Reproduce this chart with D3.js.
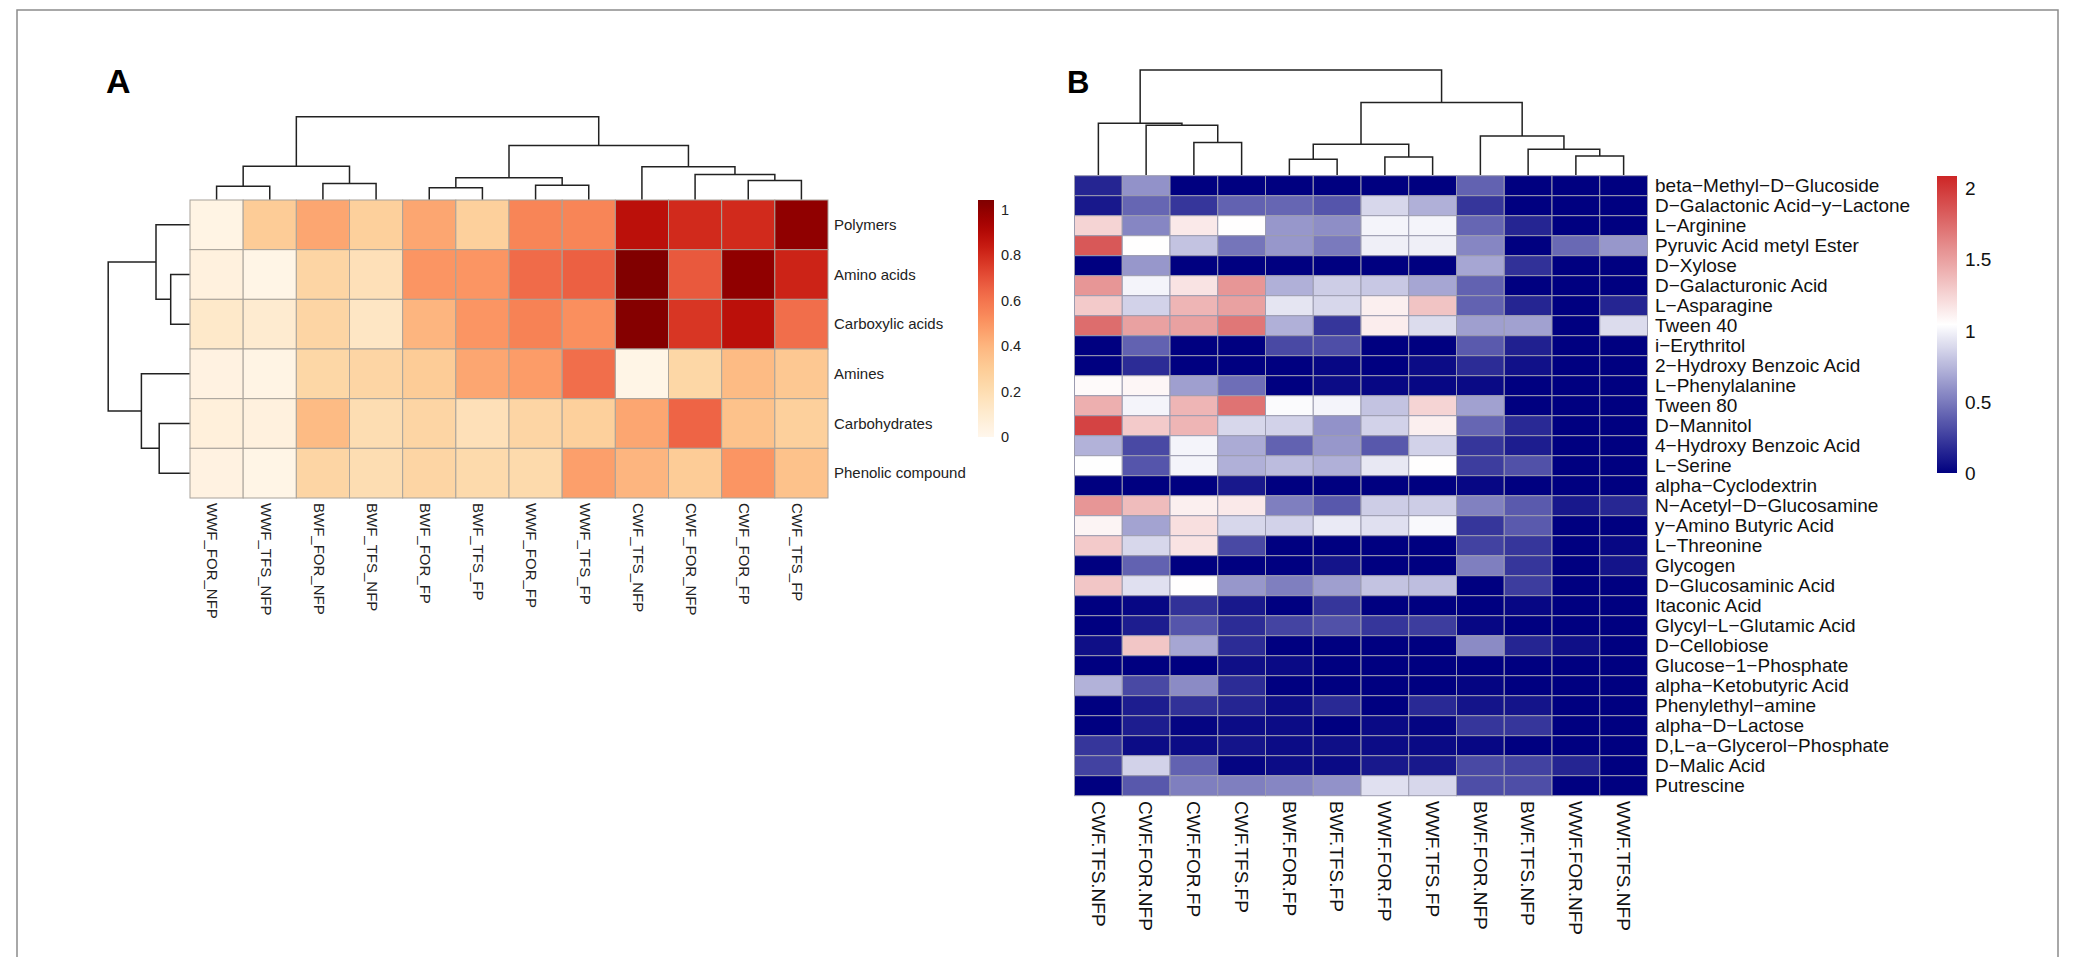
<!DOCTYPE html>
<html>
<head>
<meta charset="utf-8">
<script src="https://cdn.jsdelivr.net/npm/d3@7"></script>
<style>
  html, body { margin: 0; padding: 0; background: #fff; }
  svg { display: block; }
  text { font-family: "Liberation Sans", Arial, sans-serif; }
</style>
</head>
<body>
<svg id="chart" width="2074" height="957"></svg>
<script>
// ---------------- Panel A data ----------------
const colsA = ["WWF_FOR_NFP","WWF_TFS_NFP","BWF_FOR_NFP","BWF_TFS_NFP","BWF_FOR_FP","BWF_TFS_FP",
               "WWF_FOR_FP","WWF_TFS_FP","CWF_TFS_NFP","CWF_FOR_NFP","CWF_FOR_FP","CWF_TFS_FP"];
const rowsA = ["Polymers","Amino acids","Carboxylic acids","Amines","Carbohydrates","Phenolic compound"];
const valsA_Polymers      = [0.03,0.30,0.45,0.28,0.45,0.28,0.55,0.55,0.88,0.80,0.80,1.00];
const valsA_AminoAcids    = [0.05,0.02,0.25,0.18,0.50,0.50,0.63,0.66,1.04,0.68,1.00,0.82];
const valsA_Carboxylic    = [0.12,0.10,0.25,0.14,0.40,0.50,0.56,0.52,1.03,0.77,0.88,0.62];
const valsA_Amines        = [0.04,0.03,0.24,0.25,0.30,0.45,0.48,0.62,0.02,0.24,0.38,0.32];
const valsA_Carbohydrates = [0.06,0.05,0.38,0.20,0.25,0.18,0.25,0.28,0.45,0.65,0.35,0.28];
const valsA_Phenolic      = [0.04,0.02,0.25,0.20,0.25,0.22,0.22,0.47,0.40,0.30,0.50,0.35];
const matA = [valsA_Polymers, valsA_AminoAcids, valsA_Carboxylic, valsA_Amines, valsA_Carbohydrates, valsA_Phenolic];
const legendTicksA = [0, 0.2, 0.4, 0.6, 0.8, 1];
// dendrograms (hclust-style merges: negative = leaf index, positive = earlier merge; third = height)
const colMergeA = [[-1,-2,13.3],[-3,-4,16],[-5,-6,11.7],[-7,-8,14.3],[-11,-12,19],[-10,5,25],
                   [-9,6,32.7],[3,4,21.7],[8,7,54],[1,2,33.3],[10,9,82.7]];
const rowMergeA = [[-2,-3,18.8],[-1,1,33.5],[-5,-6,30.3],[-4,3,48.1],[2,4,81.3]];

// ---------------- Panel B data ----------------
const colsB = ["CWF.TFS.NFP","CWF.FOR.NFP","CWF.FOR.FP","CWF.TFS.FP","BWF.FOR.FP","BWF.TFS.FP",
               "WWF.FOR.FP","WWF.TFS.FP","BWF.FOR.NFP","BWF.TFS.NFP","WWF.FOR.NFP","WWF.TFS.NFP"];
const rowsB = ["beta-Methyl-D-Glucoside","D-Galactonic Acid-y-Lactone","L-Arginine","Pyruvic Acid metyl Ester",
  "D-Xylose","D-Galacturonic Acid","L-Asparagine","Tween 40","i-Erythritol","2-Hydroxy Benzoic Acid",
  "L-Phenylalanine","Tween 80","D-Mannitol","4-Hydroxy Benzoic Acid","L-Serine","alpha-Cyclodextrin",
  "N-Acetyl-D-Glucosamine","y-Amino Butyric Acid","L-Threonine","Glycogen","D-Glucosaminic Acid",
  "Itaconic Acid","Glycyl-L-Glutamic Acid","D-Cellobiose","Glucose-1-Phosphate","alpha-Ketobutyric Acid",
  "Phenylethyl-amine","alpha-D-Lactose","D,L-a-Glycerol-Phosphate","D-Malic Acid","Putrescine"];
const matB = [
  [0.15,0.60,0,0,0,0,0,0,0.40,0,0,0],
  [0.10,0.42,0.22,0.40,0.42,0.35,0.88,0.72,0.22,0,0,0],
  [1.25,0.55,1.15,1.05,0.62,0.58,1.00,1.00,0.42,0.15,0,0],
  [1.85,1.05,0.80,0.48,0.62,0.50,0.98,0.98,0.55,0,0.43,0.62],
  [0,0.62,0,0,0,0,0,0,0.68,0.20,0,0],
  [1.55,1.00,1.18,1.55,0.72,0.84,0.82,0.68,0.40,0,0,0],
  [1.30,0.86,1.40,1.50,0.94,0.88,1.12,1.33,0.40,0.15,0,0.15],
  [1.75,1.50,1.50,1.70,0.72,0.22,1.13,0.90,0.65,0.66,0,0.90],
  [0,0.40,0,0,0.30,0.32,0,0,0.37,0.13,0,0],
  [0,0.18,0,0,0,0.03,0,0.05,0.18,0.07,0,0],
  [1.07,1.09,0.65,0.45,0,0.05,0.03,0.03,0.04,0,0,0],
  [1.43,1.00,1.40,1.72,1.03,1.00,0.80,1.25,0.66,0,0,0],
  [1.95,1.30,1.40,0.88,0.86,0.60,0.86,1.12,0.42,0.17,0,0],
  [0.73,0.30,1.00,0.70,0.40,0.62,0.36,0.86,0.22,0.12,0,0],
  [1.04,0.35,1.00,0.72,0.77,0.72,0.95,1.05,0.25,0.33,0,0],
  [0,0,0,0.10,0,0,0,0,0.03,0,0,0],
  [1.55,1.37,1.12,1.15,0.52,0.36,0.84,0.84,0.53,0.37,0.10,0.16],
  [1.10,0.67,1.20,0.88,0.86,0.96,0.92,1.02,0.22,0.37,0,0],
  [1.30,0.88,1.18,0.30,0,0,0,0,0.27,0.22,0,0.03],
  [0,0.40,0,0,0,0.08,0,0,0.52,0.22,0,0.08],
  [1.32,0.92,1.05,0.62,0.52,0.65,0.80,0.78,0,0.25,0,0],
  [0,0.03,0.20,0.10,0,0.22,0,0,0,0.03,0,0],
  [0,0.12,0.35,0.18,0.28,0.33,0.22,0.25,0.03,0,0,0],
  [0.06,1.32,0.68,0.18,0,0,0,0,0.57,0.15,0.06,0],
  [0,0,0,0.06,0.04,0,0,0,0,0,0,0],
  [0.73,0.30,0.57,0.18,0,0,0,0,0.02,0,0,0],
  [0,0.12,0.20,0.15,0.05,0.17,0,0.17,0.08,0.08,0,0],
  [0,0.12,0.02,0.05,0.05,0,0.04,0.02,0.22,0.22,0,0],
  [0.22,0.05,0.05,0.08,0.05,0.06,0.05,0.04,0.03,0,0,0],
  [0.27,0.86,0.40,0.02,0.05,0.04,0.10,0.10,0.30,0.27,0.15,0],
  [0,0.36,0.52,0.52,0.55,0.60,0.92,0.88,0.32,0.32,0,0]
];
const legendTicksB = [0, 0.5, 1, 1.5, 2];
const colMergeB = [[-3,-4,32.4],[-2,1,49.7],[-1,2,51.7],[-5,-6,15.7],[-7,-8,18],[4,5,30.7],
                   [-11,-12,19],[-10,7,25.7],[-9,8,39],[6,9,72.4],[3,10,105]];

// ---------------- Drawing ----------------
const svg = d3.select("#chart");
// R graphics devices draw the hyphen as a (longer) minus sign
const rDash = s => s.replace(/-/g, "\u2212");

// outer frame
svg.append("path").attr("d", "M17,957 V10 H2058 V957")
  .attr("fill", "none").attr("stroke", "#8c8c8c").attr("stroke-width", 1.5);

// panel letters
svg.append("text").attr("x", 106).attr("y", 93).text("A")
  .attr("font-size", 34).attr("font-weight", "bold").attr("fill", "#000");
svg.append("text").attr("x", 1067).attr("y", 93).text("B")
  .attr("font-size", 31).attr("font-weight", "bold").attr("fill", "#000");

// generic dendrogram drawer
function drawDendro(g, merges, leafPos, hScale, orient) {
  const nodes = [];
  const get = (i) => i < 0 ? { pos: leafPos(-i - 1), h: 0 } : nodes[i - 1];
  let d = "";
  merges.forEach(m => {
    const a = get(m[0]), b = get(m[1]);
    const h = m[2];
    if (orient === "top") {
      d += `M${a.pos},${hScale(a.h)}V${hScale(h)}H${b.pos}V${hScale(b.h)}`;
    } else {
      d += `M${hScale(a.h)},${a.pos}H${hScale(h)}V${b.pos}H${hScale(b.h)}`;
    }
    nodes.push({ pos: (a.pos + b.pos) / 2, h });
  });
  g.append("path").attr("d", d).attr("fill", "none")
    .attr("stroke", "#222").attr("stroke-width", 1.5);
}

function gradient(id, scale, domain) {
  const grad = svg.append("defs").append("linearGradient").attr("id", id)
    .attr("x1", 0).attr("y1", 1).attr("x2", 0).attr("y2", 0);
  const n = 40;
  for (let i = 0; i <= n; i++) {
    const v = domain[0] + (domain[1] - domain[0]) * i / n;
    grad.append("stop").attr("offset", (i / n)).attr("stop-color", scale(v));
  }
}

// ---- Panel A ----
{
  const x = d3.scaleBand().domain(colsA).range([190, 828]);
  const y = d3.scaleBand().domain(rowsA).range([200, 498]);
  const color = d3.scaleSequential(d3.interpolateOrRd).domain([0, 1.044]);
  const g = svg.append("g");
  const cells = [];
  matA.forEach((row, i) => row.forEach((v, j) => cells.push({ r: rowsA[i], c: colsA[j], v })));
  g.selectAll("rect.cellA").data(cells).join("rect").attr("class", "cellA")
    .attr("x", d => x(d.c)).attr("y", d => y(d.r))
    .attr("width", x.bandwidth()).attr("height", y.bandwidth())
    .attr("fill", d => color(d.v)).attr("stroke", "#a8a29a").attr("stroke-width", 1);

  g.selectAll("text.rowA").data(rowsA).join("text").attr("class", "rowA")
    .attr("x", 834).attr("y", d => y(d) + y.bandwidth() / 2).attr("dy", "0.35em")
    .attr("font-size", 15).attr("fill", "#222").text(d => d);
  g.selectAll("text.colA").data(colsA).join("text").attr("class", "colA")
    .attr("transform", d => `translate(${x(d) + x.bandwidth() / 2 - 4},503) rotate(90)`)
    .attr("dy", "0.35em").attr("font-size", 15).attr("fill", "#222").text(d => d);

  const hTop = d3.scaleLinear().domain([0, 100]).range([199.5, 99.5]);
  drawDendro(g, colMergeA, i => x(colsA[i]) + x.bandwidth() / 2, hTop, "top");
  const hLeft = d3.scaleLinear().domain([0, 100]).range([189.5, 89.5]);
  drawDendro(g, rowMergeA, i => y(rowsA[i]) + y.bandwidth() / 2, hLeft, "left");

  // legend
  const ly = d3.scaleLinear().domain([0, 1.044]).range([437, 200]);
  gradient("gradA", color, [0, 1.044]);
  g.append("rect").attr("x", 978).attr("y", ly(1.044)).attr("width", 16)
    .attr("height", ly(0) - ly(1.044)).attr("fill", "url(#gradA)");
  g.selectAll("text.legA").data(legendTicksA).join("text").attr("class", "legA")
    .attr("x", 1001).attr("y", d => ly(d)).attr("dy", "0.35em")
    .attr("font-size", 14.5).attr("fill", "#222").text(d => d3.format("")(d));
}

// ---- Panel B ----
{
  const x = d3.scaleBand().domain(colsB).range([1074.5, 1647.5]);
  const y = d3.scaleBand().domain(rowsB).range([175.7, 795.7]);
  const color = d3.scaleLinear().domain([0, 1.045, 2.09])
    .range(["#000080", "#ffffff", "#cd2626"]).interpolate(d3.interpolateRgb);
  const g = svg.append("g");
  const cells = [];
  matB.forEach((row, i) => row.forEach((v, j) => cells.push({ r: rowsB[i], c: colsB[j], v })));
  g.selectAll("rect.cellB").data(cells).join("rect").attr("class", "cellB")
    .attr("x", d => x(d.c)).attr("y", d => y(d.r))
    .attr("width", x.bandwidth()).attr("height", y.bandwidth())
    .attr("fill", d => color(d.v)).attr("stroke", "#9c9cb0").attr("stroke-width", 1);

  g.selectAll("text.rowB").data(rowsB).join("text").attr("class", "rowB")
    .attr("x", 1655).attr("y", d => y(d) + y.bandwidth() / 2).attr("dy", "0.35em")
    .attr("font-size", 19).attr("fill", "#111").text(d => rDash(d));
  g.selectAll("text.colB").data(colsB).join("text").attr("class", "colB")
    .attr("transform", d => `translate(${x(d) + x.bandwidth() / 2},801) rotate(90)`)
    .attr("dy", "0.35em").attr("font-size", 19).attr("fill", "#111").text(d => d);

  const hTop = d3.scaleLinear().domain([0, 100]).range([175, 75]);
  drawDendro(g, colMergeB, i => x(colsB[i]) + x.bandwidth() / 2, hTop, "top");

  const ly = d3.scaleLinear().domain([0, 2.09]).range([473, 176]);
  gradient("gradB", color, [0, 2.09]);
  g.append("rect").attr("x", 1937).attr("y", ly(2.09)).attr("width", 20)
    .attr("height", ly(0) - ly(2.09)).attr("fill", "url(#gradB)");
  g.selectAll("text.legB").data(legendTicksB).join("text").attr("class", "legB")
    .attr("x", 1965).attr("y", d => ly(d)).attr("dy", "0.35em")
    .attr("font-size", 19).attr("fill", "#111").text(d => d3.format("")(d));
}
</script>
</body>
</html>
